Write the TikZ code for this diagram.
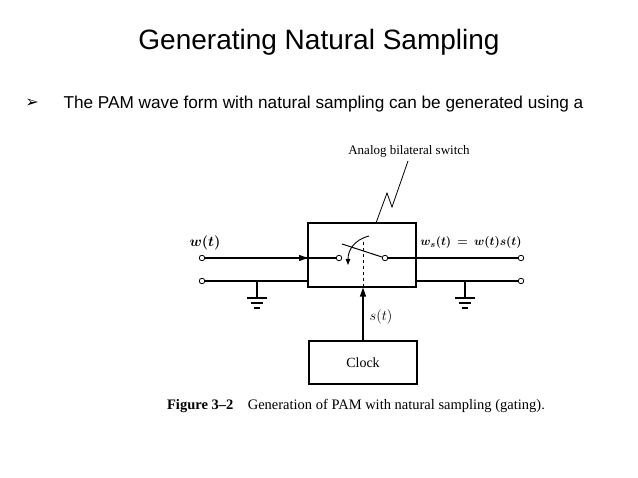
\documentclass[tikz,border=0pt]{standalone}
\usepackage{amsmath}
\usepackage{fontspec}
\setmainfont{Liberation Serif}
\newfontfamily\arial{Liberation Sans}
\newfontfamily\dejavu{DejaVu Sans}
\usetikzlibrary{arrows.meta}
\begin{document}
\begin{tikzpicture}[x=1pt,y=-1pt,
  wire/.style={line width=1.1pt},
  term/.style={circle,draw,line width=0.8pt,fill=white,inner sep=0pt,minimum size=5.5pt},
  box/.style={draw,line width=1.1pt},
  lbl/.style={font=\fontsize{13}{15}\selectfont},
  mlbl/.style={font=\fontsize{14}{16}\selectfont},
  arr/.style={-{Triangle[length=9pt,width=6pt]}}]
\useasboundingbox (0,0) rectangle (638,478);
\node[font=\arial\fontsize{28}{32}\selectfont] (title) at (319,42) {Generating Natural Sampling};
\node[anchor=west,font=\arial\fontsize{17.2}{20}\selectfont] (bul) at (60,104) {The PAM wave form with natural sampling can be generated using a};
\node[font=\dejavu\fontsize{16}{18}\selectfont] (arrw) at (32,103) {➢};
% switch box
\node[box,minimum width=108pt,minimum height=64pt] (sw) at (362,255) {};
\node[lbl] (abs) at (409,151) {Analog bilateral switch};
\coordinate (z1) at (376,223);
\coordinate (z2) at (387,193);
\coordinate (z3) at (392,207);
\coordinate (z4) at (408,161);
\draw[line width=0.8pt] (z1)--(z2)--(z3)--(z4);
% terminals
\node[term] (tl1) at (202,258) {};
\node[term] (tl2) at (202,281) {};
\node[term] (tr1) at (521,258) {};
\node[term] (tr2) at (521,281) {};
\node[term] (cl) at (339,258) {};
\node[term] (cr) at (385,258) {};
\coordinate (bl) at (308,258);
\draw[wire] (tl1) -- (cl);
\draw[wire,arr] (tl1) -- (bl);
\draw[wire] (cr) -- (tr1);
\draw[wire] (tl2) -- (sw.west |- tl2);
\draw[wire] (sw.east |- tr2) -- (tr2);
\coordinate (blade) at (342,244);
\draw[line width=1pt] (blade) -- (cr);
\coordinate (ca) at (369,236);
\coordinate (cb) at (348,265);
\draw[line width=0.9pt,-{Triangle[length=6pt,width=4.5pt]}] (ca) .. controls (354,240) and (348,250) .. (cb);
\coordinate (dt) at (363,242);
\draw[line width=0.9pt,dashed] (dt) -- (sw.south -| dt);
% grounds
\foreach \gx/\gn in {257/gl,465/gr}{
  \coordinate (\gn) at (\gx,281);
  \draw[wire] (\gn) -- ++(0,17);
  \draw[line width=1.2pt] (\gx-10,298) -- (\gx+10,298);
  \draw[line width=1.2pt] (\gx-6,303) -- (\gx+6,303);
  \draw[line width=1.2pt] (\gx-3,308) -- (\gx+3,308);
}
% clock
\node[box,minimum width=108pt,minimum height=43pt,font=\fontsize{14}{16}\selectfont] (clk) at (363,362.5) {Clock};
\draw[wire,arr] (clk.north) -- (clk.north |- sw.south);
% labels
\node[mlbl] (wt) at (205,243) {$\boldsymbol{w(t)}$};
\node[font=\fontsize{13}{15}\selectfont] (ws) at (471,243) {$\boldsymbol{w_s(t)\,=\,w(t)s(t)}$};
\node[mlbl] (st) at (381,317) {$s(t)$};
\node[font=\fontsize{14.5}{16}\selectfont] (cap) at (356,406) {\textbf{Figure 3–2}\quad Generation of PAM with natural sampling (gating).};
\end{tikzpicture}
\end{document}
